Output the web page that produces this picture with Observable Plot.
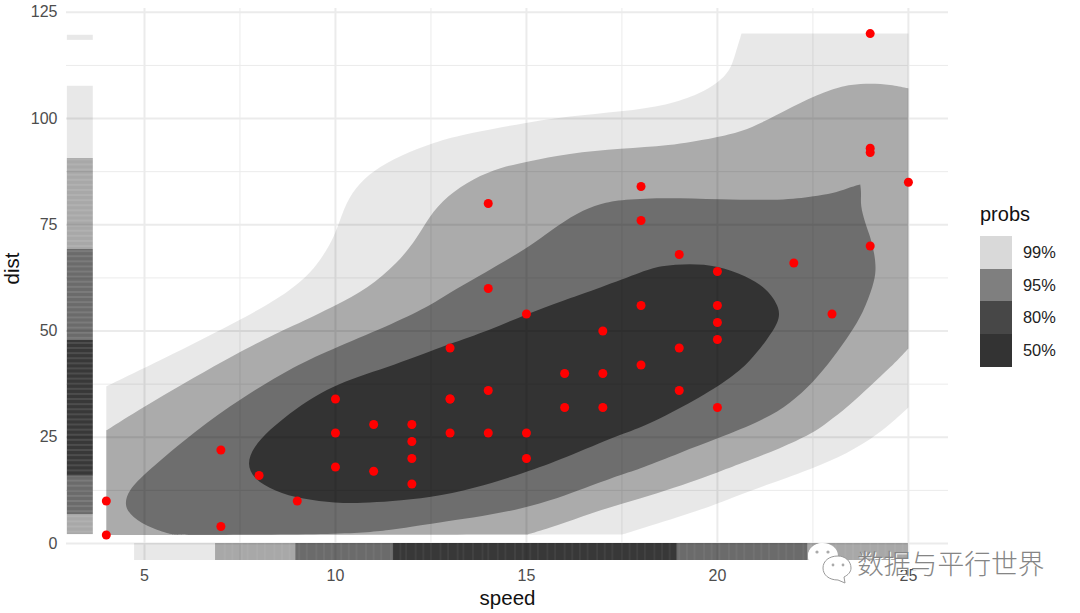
<!DOCTYPE html>
<html>
<head>
<meta charset="utf-8">
<script src="https://cdn.jsdelivr.net/npm/d3@7"></script>
<script src="https://cdn.jsdelivr.net/npm/@observablehq/plot@0.6"></script>
<style>
  html, body { margin: 0; background: #fff; }
  #chart { position: relative; width: 1080px; height: 613px; overflow: hidden; font-family: "Liberation Sans", sans-serif; }
  #legend { position: absolute; left: 980px; top: 203px; }
  #legend .title { font-size: 20px; color: #111; line-height: 22px; height: 33px; }
  #legend .row { display: flex; align-items: center; height: 32.7px; }
  #legend .sw { width: 32px; height: 32.7px; }
  #legend .lab { margin-left: 11px; font-size: 16.4px; color: #222; }
  #mark { position: absolute; left: 806px; top: 542px; }
  #marktext { position: absolute; left: 857px; top: 545px; font: 300 26.8px "Noto Sans CJK SC"; line-height: 36px; color: #858585; white-space: nowrap;
    text-shadow: 1px 1px 0 #fff; }
</style>
</head>
<body>
<div id="chart"></div>
<script>
// cars data
const speed = [4,4,7,7,8,9,10,10,10,11,11,12,12,12,12,13,13,13,13,14,14,14,14,15,15,15,16,16,17,17,17,18,18,18,18,19,19,19,20,20,20,20,20,22,23,24,24,24,24,25]
const dist = [2,10,4,22,16,10,18,26,34,17,28,14,20,24,28,26,34,34,46,26,36,60,80,20,26,54,32,40,32,40,50,42,56,76,84,36,46,68,32,48,52,56,64,66,54,70,92,93,120,85]

// hdr contours, corners repeated three times so the spline stays sharp
const x99 = [4,4,4,4,4,4,5.03,7.51,8.87,9.53,10,10.21,10.52,10.99,11.7,12.57,13.46,15.03,16.07,17.51,18.69,19.55,20,20.34,20.47,20.63,20.63,20.63,25,25,25,25,25,25,24.19,23.4,22.51,21.47,20,19.29,17.51,17.51,17.51,4,4,4]
const y99 = [2,2,2,37,37,37,41.4,52.5,59.6,65.4,72.5,78.9,83.8,87.8,91.3,94.4,96.5,99.1,100.5,101.7,103.1,105.9,108.3,111.3,115.3,120,120,120,120,120,120,32,32,32,25.4,21.2,17.7,14.4,9.4,7.1,2.1,2.1,2.1,2,2,2]

const x95 = [4,4,4,4,4,4,5.03,7.51,8.95,10,10.84,11.62,12.15,12.43,12.93,13.61,14.32,15.03,16.07,17.51,18.69,20,20.6,21.31,22.17,23.04,23.48,24.01,24.53,25,25,25,25,25,25,24.53,24.01,23.4,22.88,22.49,21.65,20.6,20,19.29,18.43,17.51,16.68,15.81,15.03,15.03,15.03,4,4,4]
const y95 = [2,2,2,26.6,26.6,26.6,32.5,45.4,51.5,56,60,65.9,72,76.7,81.9,85.9,88.5,89.9,91.8,93,93.5,95.6,96.8,99.6,103.8,107.1,108,108.3,108,107.1,107.1,107.1,45.9,45.9,45.9,41.4,37.2,32,28.5,25.9,22.4,18.8,16.7,14.4,11.8,9.4,7.1,4.2,2.1,2.1,2.1,2,2,2]

const x80 = [23.74,23.74,23.74,23.77,23.74,23.87,24.01,24.11,24.16,24.08,23.82,23.48,23.04,22.51,21.91,21.2,20,19.03,17.98,17.51,16.68,14.97,12.49,11.44,10.13,5.76,5.76,5.03,4.58,4.48,4.58,5.03,6.34,7.51,8.95,10,11.57,12.49,13.09,15.03,15.63,16.34,16.94,17.51,18.69,20,21.73,22.51,23.04,23.4,23.74,23.74,23.74]
const y80 = [84.5,84.5,84.5,82.4,79.6,75.3,72,68.3,64.3,60.7,54.4,49.4,43.8,37.9,33,29,24.7,21.4,17.6,16.3,13.6,7.8,4.7,3.1,2.1,2,2,4,7.1,9.4,12.5,16.7,26.6,34.1,41.9,46.1,52,56,59.6,69.4,73.7,77.9,80,81,81.4,81,80.7,81.7,82.4,83.6,84.5,84.5,84.5]

const x50 = [7.68,7.85,8.25,8.95,10,11.57,13.01,14.01,15.03,15.97,16.75,17.98,18.51,19.29,20,20.75,21.3,21.65,21.6,21.3,20.85,20.3,19.29,17.98,17.51,15.97,14.97,13.61,12.49,11.44,10.71,10,9.14,8.4,7.85]
const y50 = [18.8,22.6,26.6,31.8,37.7,42,47.1,50.1,54.1,57.2,59.6,63.8,65.4,65.9,65.4,63,60,55.3,52,48,42.8,38.6,33,27.1,25.9,20,16.7,12.9,10.8,9.9,9.5,9.5,10.4,12.3,15.3]

// rugs
const rugYFrom = [118.4,90.6,69.2,47.8,15.8,6.8,2.1]
const rugYTo = [119.6,107.6,90.6,69.2,47.8,15.8,6.8]
const rugYProb = ["99%","99%","95%","80%","50%","80%","95%"]
const rugXFrom = [4.74,6.86,8.96,11.52,18.95,22.37]
const rugXTo = [6.86,8.96,11.52,18.95,22.37,25]
const rugXProb = ["99%","95%","80%","50%","80%","95%"]

// faint seams inside the rugs
const seamY = [2.8,4,5.2,6.4,7.6,8.8,10,11.2,12.4,13.6,14.8,16,17.2,18.4,19.6,20.8,22,23.2,24.4,25.6,26.8,28,29.2,30.4,31.6,32.8,34,35.2,36.4,37.6,38.8,40,41.2,42.4,43.6,44.8,46,47.2,48.4,49.6,50.8,52,53.2,54.4,55.6,56.8,58,59.2,60.4,61.6,62.8,64,65.2,66.4,67.6,68.8,70,71.2,72.4,73.6,74.8,76,77.2,78.4,79.6,80.8,82,83.2,84.4,85.6,86.8,88,89.2,90.4]
const seamX = [7.1,7.3,7.55,7.7,7.95,8.15,8.4,8.6,8.8,9.05,9.25,9.5,9.7,9.9,10.15,10.35,10.55,10.8,11,11.2,11.45,11.7,11.85,12.1,12.3,12.5,12.75,12.95,13.2,13.35,13.6,13.85,14,14.25,14.45,14.7,14.9,15.1,15.3,15.55,15.75,16,16.2,16.4,16.6,16.85,17.05,17.25,17.5,17.7,17.9,18.1,18.35,18.55,18.75,19,19.2,19.4,19.65,19.85,20.05,20.3,20.5,20.7,20.95,21.15,21.35,21.6,21.8,22,22.25,22.45,22.7,22.9,23.1,23.35,23.55,23.75,24,24.2,24.4,24.65,24.85]

// axes
const xMajor = [5,10,15,20,25]
const xMinor = [7.5,12.5,17.5,22.5]
const yMajor = [0,25,50,75,100,125]
const yMinor = [12.5,37.5,62.5,87.5,112.5]

const probs = ["99%","95%","80%","50%"]
const legendFill = ["#d9d9d9","#7f7f7f","#474747","#333333"]
const rugOpacity = {"99%": 0.09, "95%": 0.34, "80%": 0.58, "50%": 0.78}

const contour = (xs, ys, opacity, curve) =>
  Plot.line(d3.zip(xs, ys), {x: "0", y: "1", fill: "black", fillOpacity: opacity, stroke: "none", curve})

const grid = "#ebebeb"

let chart = Plot.plot({
  width: 1080,
  height: 613,
  marginLeft: 66,
  marginRight: 132,
  marginTop: 8,
  marginBottom: 53,
  style: {background: "white", fontFamily: "Liberation Sans", overflow: "visible"},
  x: {domain: [2.958, 26.05]},
  y: {domain: [-4, 125.9]},
  marks: [
    Plot.ruleX(xMinor, {stroke: grid, strokeWidth: 1}),
    Plot.ruleY(yMinor, {stroke: grid, strokeWidth: 1}),
    Plot.ruleX(xMajor, {stroke: grid, strokeWidth: 2}),
    Plot.ruleY(yMajor, {stroke: grid, strokeWidth: 2}),

    contour(x99, y99, 0.09, "basis"),
    contour(x95, y95, 0.263, "basis"),
    contour(x80, y80, 0.357, "basis"),
    contour(x50, y50, 0.536, "basis-closed"),

    // left and bottom rugs
    Plot.rect(rugYFrom, {
      x1: 2.98, x2: 3.66,
      y1: rugYFrom, y2: rugYTo,
      fill: "black",
      fillOpacity: rugYProb.map(p => rugOpacity[p])
    }),
    Plot.rect(rugXFrom, {
      x1: rugXFrom, x2: rugXTo,
      y1: -4, y2: 0,
      fill: "black",
      fillOpacity: rugXProb.map(p => rugOpacity[p])
    }),
    Plot.ruleY(seamY, {x1: 2.98, x2: 3.66, stroke: "white", strokeOpacity: 0.11, strokeWidth: 2}),
    Plot.ruleX(seamX, {y1: -4, y2: 0, stroke: "white", strokeOpacity: 0.05, strokeWidth: 2}),

    Plot.dot(speed, {x: speed, y: dist, r: 4.5, fill: "red", stroke: "none"}),

    Plot.axisX(xMajor, {label: null, tickSize: 0, tickPadding: 9, fontSize: 16, color: "#4d4d4d"}),
    Plot.axisY(yMajor, {label: null, tickSize: 0, tickPadding: 9, fontSize: 16, color: "#4d4d4d"}),
    Plot.text(["speed"], {frameAnchor: "bottom", dy: 44, fontSize: 20.5, fill: "#111"}),
    Plot.text(["dist"], {frameAnchor: "left", dx: -54, rotate: -90, fontSize: 20.5, fill: "#111"})
  ]
})

const box = document.querySelector("#chart")
box.append(chart)

// legend
const legend = d3.select(box).append("div").attr("id", "legend")
legend.append("div").attr("class", "title").text("probs")
probs.forEach((p, i) => {
  const row = legend.append("div").attr("class", "row")
  row.append("div").attr("class", "sw").style("background", legendFill[i])
  row.append("div").attr("class", "lab").text(p)
})

// watermark
d3.select(box).append("div").html(`
<svg id="mark" width="52" height="42" viewBox="0 0 52 42">
  <path d="M17 1C8 1 2 7 2 14c0 4 2 7 5 10l-2 6 7-3c1 0 4 1 5 1z" fill="#fff"/>
  <ellipse cx="17" cy="14" rx="15" ry="13" fill="#fff"/>
  <circle cx="11" cy="10" r="1.6" fill="#aaa"/><circle cx="22" cy="10" r="1.6" fill="#aaa"/>
  <path d="M32 14c-9 0-15 5-15 12s6 12 15 12l7 3-1-6c4-2 7-5 7-9 0-7-6-12-13-12z" fill="#fff" stroke="#999" stroke-width="1"/>
  <circle cx="27" cy="23" r="1.4" fill="#aaa"/><circle cx="37" cy="23" r="1.4" fill="#aaa"/>
</svg>
<div id="marktext">数据与平行世界</div>`)
</script>
</body>
</html>
